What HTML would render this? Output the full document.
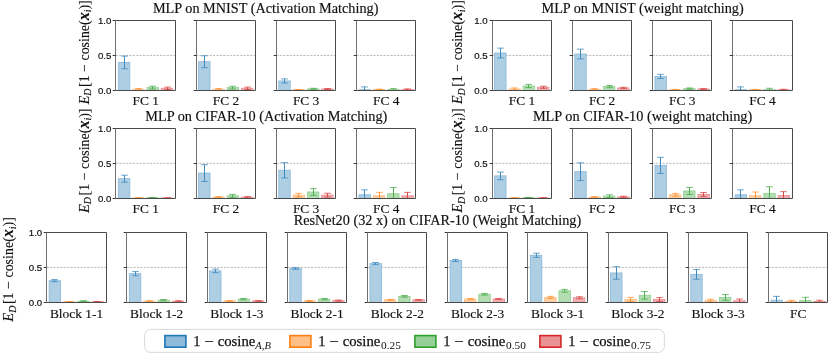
<!DOCTYPE html><html><head><meta charset="utf-8"><style>html,body{margin:0;padding:0;background:#fff;}svg{display:block;will-change:transform;}</style></head><body><svg width="830" height="355" viewBox="0 0 830 355">
<rect width="830" height="355" fill="#fff"/>
<clipPath id="c1"><rect x="115.80" y="20.50" width="59.80" height="69.90"/></clipPath>
<g clip-path="url(#c1)">
<line x1="115.80" y1="55.45" x2="175.60" y2="55.45" stroke="#a8a8a8" stroke-width="0.8" stroke-dasharray="2.2 1.2"/>
<rect x="118.38" y="62.44" width="11.44" height="27.96" fill="rgb(174,206,228)" stroke="rgb(143,187,218)" stroke-width="0.9"/>
<g stroke="rgb(65,139,191)" stroke-width="1" fill="none">
<line x1="124.50" y1="68.73" x2="124.50" y2="56.15"/>
<line x1="121.20" y1="56.15" x2="127.80" y2="56.15" stroke-opacity="0.8"/>
<line x1="121.20" y1="68.73" x2="127.80" y2="68.73" stroke-opacity="0.8"/>
</g>
<rect x="132.68" y="89.35" width="11.44" height="1.05" fill="rgb(255,209,168)" stroke="rgb(255,191,134)" stroke-width="0.9"/>
<g stroke="rgb(255,146,50)" stroke-width="1" fill="none">
<line x1="138.50" y1="90.19" x2="138.50" y2="88.51"/>
<line x1="135.20" y1="88.51" x2="141.80" y2="88.51" stroke-opacity="0.8"/>
<line x1="135.20" y1="90.19" x2="141.80" y2="90.19" stroke-opacity="0.8"/>
</g>
<rect x="146.99" y="87.60" width="11.44" height="2.80" fill="rgb(179,221,179)" stroke="rgb(150,208,150)" stroke-width="0.9"/>
<g stroke="rgb(76,174,76)" stroke-width="1" fill="none">
<line x1="152.50" y1="89.00" x2="152.50" y2="86.21"/>
<line x1="149.20" y1="86.21" x2="155.80" y2="86.21" stroke-opacity="0.8"/>
<line x1="149.20" y1="89.00" x2="155.80" y2="89.00" stroke-opacity="0.8"/>
</g>
<rect x="161.29" y="88.30" width="11.44" height="2.10" fill="rgb(240,177,178)" stroke="rgb(234,147,148)" stroke-width="0.9"/>
<g stroke="rgb(220,71,72)" stroke-width="1" fill="none">
<line x1="167.50" y1="89.49" x2="167.50" y2="87.11"/>
<line x1="164.20" y1="87.11" x2="170.80" y2="87.11" stroke-opacity="0.8"/>
<line x1="164.20" y1="89.49" x2="170.80" y2="89.49" stroke-opacity="0.8"/>
</g>
</g>
<path d="M115.50 20.50H175.50V90.50H115.50" fill="none" stroke="#4a4a4a" stroke-width="1.0"/>
<line x1="115.50" y1="20.50" x2="115.50" y2="90.50" stroke="#707070" stroke-width="1.0"/>
<line x1="112.70" y1="90.50" x2="115.50" y2="90.50" stroke="#333" stroke-width="1.0"/>
<line x1="112.70" y1="55.50" x2="115.50" y2="55.50" stroke="#333" stroke-width="1.0"/>
<line x1="112.70" y1="20.50" x2="115.50" y2="20.50" stroke="#333" stroke-width="1.0"/>
<text x="111.40" y="94.30" font-family='"Liberation Sans", sans-serif' font-size="9.9" text-anchor="end" fill="#111" stroke="#111" stroke-width="0.2" textLength="13.4" lengthAdjust="spacingAndGlyphs">0.0</text>
<text x="111.40" y="59.35" font-family='"Liberation Sans", sans-serif' font-size="9.9" text-anchor="end" fill="#111" stroke="#111" stroke-width="0.2" textLength="13.4" lengthAdjust="spacingAndGlyphs">0.5</text>
<text x="111.40" y="24.40" font-family='"Liberation Sans", sans-serif' font-size="9.9" text-anchor="end" fill="#111" stroke="#111" stroke-width="0.2" textLength="13.4" lengthAdjust="spacingAndGlyphs">1.0</text>
<text x="145.70" y="105.30" font-family='"Liberation Serif", serif' font-size="13.4" text-anchor="middle" fill="#111" stroke="#111" stroke-width="0.15">FC 1</text>
<clipPath id="c2"><rect x="196.00" y="20.50" width="59.80" height="69.90"/></clipPath>
<g clip-path="url(#c2)">
<line x1="196.00" y1="55.45" x2="255.80" y2="55.45" stroke="#a8a8a8" stroke-width="0.8" stroke-dasharray="2.2 1.2"/>
<rect x="198.58" y="61.74" width="11.44" height="28.66" fill="rgb(174,206,228)" stroke="rgb(143,187,218)" stroke-width="0.9"/>
<g stroke="rgb(65,139,191)" stroke-width="1" fill="none">
<line x1="204.50" y1="67.68" x2="204.50" y2="55.80"/>
<line x1="201.20" y1="55.80" x2="207.80" y2="55.80" stroke-opacity="0.8"/>
<line x1="201.20" y1="67.68" x2="207.80" y2="67.68" stroke-opacity="0.8"/>
</g>
<rect x="212.88" y="89.35" width="11.44" height="1.05" fill="rgb(255,209,168)" stroke="rgb(255,191,134)" stroke-width="0.9"/>
<g stroke="rgb(255,146,50)" stroke-width="1" fill="none">
<line x1="218.50" y1="90.19" x2="218.50" y2="88.51"/>
<line x1="215.20" y1="88.51" x2="221.80" y2="88.51" stroke-opacity="0.8"/>
<line x1="215.20" y1="90.19" x2="221.80" y2="90.19" stroke-opacity="0.8"/>
</g>
<rect x="227.19" y="87.60" width="11.44" height="2.80" fill="rgb(179,221,179)" stroke="rgb(150,208,150)" stroke-width="0.9"/>
<g stroke="rgb(76,174,76)" stroke-width="1" fill="none">
<line x1="232.50" y1="89.00" x2="232.50" y2="86.21"/>
<line x1="229.20" y1="86.21" x2="235.80" y2="86.21" stroke-opacity="0.8"/>
<line x1="229.20" y1="89.00" x2="235.80" y2="89.00" stroke-opacity="0.8"/>
</g>
<rect x="241.49" y="88.30" width="11.44" height="2.10" fill="rgb(240,177,178)" stroke="rgb(234,147,148)" stroke-width="0.9"/>
<g stroke="rgb(220,71,72)" stroke-width="1" fill="none">
<line x1="247.50" y1="89.49" x2="247.50" y2="87.11"/>
<line x1="244.20" y1="87.11" x2="250.80" y2="87.11" stroke-opacity="0.8"/>
<line x1="244.20" y1="89.49" x2="250.80" y2="89.49" stroke-opacity="0.8"/>
</g>
</g>
<path d="M196.50 20.50H255.50V90.50H196.50" fill="none" stroke="#4a4a4a" stroke-width="1.0"/>
<line x1="196.50" y1="20.50" x2="196.50" y2="90.50" stroke="#707070" stroke-width="1.0"/>
<line x1="193.70" y1="90.50" x2="196.50" y2="90.50" stroke="#333" stroke-width="1.0"/>
<line x1="193.70" y1="55.50" x2="196.50" y2="55.50" stroke="#333" stroke-width="1.0"/>
<line x1="193.70" y1="20.50" x2="196.50" y2="20.50" stroke="#333" stroke-width="1.0"/>
<text x="225.90" y="105.30" font-family='"Liberation Serif", serif' font-size="13.4" text-anchor="middle" fill="#111" stroke="#111" stroke-width="0.15">FC 2</text>
<clipPath id="c3"><rect x="276.20" y="20.50" width="59.80" height="69.90"/></clipPath>
<g clip-path="url(#c3)">
<line x1="276.20" y1="55.45" x2="336.00" y2="55.45" stroke="#a8a8a8" stroke-width="0.8" stroke-dasharray="2.2 1.2"/>
<rect x="278.78" y="80.96" width="11.44" height="9.44" fill="rgb(174,206,228)" stroke="rgb(143,187,218)" stroke-width="0.9"/>
<g stroke="rgb(65,139,191)" stroke-width="1" fill="none">
<line x1="284.50" y1="83.06" x2="284.50" y2="78.87"/>
<line x1="281.20" y1="78.87" x2="287.80" y2="78.87" stroke-opacity="0.8"/>
<line x1="281.20" y1="83.06" x2="287.80" y2="83.06" stroke-opacity="0.8"/>
</g>
<rect x="293.08" y="89.70" width="11.44" height="0.70" fill="rgb(255,209,168)" stroke="rgb(255,191,134)" stroke-width="0.9"/>
<g stroke="rgb(255,146,50)" stroke-width="1" fill="none">
<line x1="298.50" y1="89.91" x2="298.50" y2="89.49"/>
<line x1="295.20" y1="89.49" x2="301.80" y2="89.49" stroke-opacity="0.8"/>
<line x1="295.20" y1="89.91" x2="301.80" y2="89.91" stroke-opacity="0.8"/>
</g>
<rect x="307.39" y="88.86" width="11.44" height="1.54" fill="rgb(179,221,179)" stroke="rgb(150,208,150)" stroke-width="0.9"/>
<g stroke="rgb(76,174,76)" stroke-width="1" fill="none">
<line x1="313.50" y1="89.42" x2="313.50" y2="88.30"/>
<line x1="310.20" y1="88.30" x2="316.80" y2="88.30" stroke-opacity="0.8"/>
<line x1="310.20" y1="89.42" x2="316.80" y2="89.42" stroke-opacity="0.8"/>
</g>
<rect x="321.69" y="89.00" width="11.44" height="1.40" fill="rgb(240,177,178)" stroke="rgb(234,147,148)" stroke-width="0.9"/>
<g stroke="rgb(220,71,72)" stroke-width="1" fill="none">
<line x1="327.50" y1="89.49" x2="327.50" y2="88.51"/>
<line x1="324.20" y1="88.51" x2="330.80" y2="88.51" stroke-opacity="0.8"/>
<line x1="324.20" y1="89.49" x2="330.80" y2="89.49" stroke-opacity="0.8"/>
</g>
</g>
<path d="M276.50 20.50H335.50V90.50H276.50" fill="none" stroke="#4a4a4a" stroke-width="1.0"/>
<line x1="276.50" y1="20.50" x2="276.50" y2="90.50" stroke="#707070" stroke-width="1.0"/>
<line x1="273.70" y1="90.50" x2="276.50" y2="90.50" stroke="#333" stroke-width="1.0"/>
<line x1="273.70" y1="55.50" x2="276.50" y2="55.50" stroke="#333" stroke-width="1.0"/>
<line x1="273.70" y1="20.50" x2="276.50" y2="20.50" stroke="#333" stroke-width="1.0"/>
<text x="306.10" y="105.30" font-family='"Liberation Serif", serif' font-size="13.4" text-anchor="middle" fill="#111" stroke="#111" stroke-width="0.15">FC 3</text>
<clipPath id="c4"><rect x="356.40" y="20.50" width="59.80" height="69.90"/></clipPath>
<g clip-path="url(#c4)">
<line x1="356.40" y1="55.45" x2="416.20" y2="55.45" stroke="#a8a8a8" stroke-width="0.8" stroke-dasharray="2.2 1.2"/>
<rect x="358.98" y="89.70" width="11.44" height="0.70" fill="rgb(174,206,228)" stroke="rgb(143,187,218)" stroke-width="0.9"/>
<g stroke="rgb(65,139,191)" stroke-width="1" fill="none">
<line x1="364.50" y1="92.50" x2="364.50" y2="86.91"/>
<line x1="361.20" y1="86.91" x2="367.80" y2="86.91" stroke-opacity="0.8"/>
<line x1="361.20" y1="92.50" x2="367.80" y2="92.50" stroke-opacity="0.8"/>
</g>
<rect x="373.28" y="89.56" width="11.44" height="0.84" fill="rgb(255,209,168)" stroke="rgb(255,191,134)" stroke-width="0.9"/>
<g stroke="rgb(255,146,50)" stroke-width="1" fill="none">
<line x1="379.50" y1="89.98" x2="379.50" y2="89.14"/>
<line x1="376.20" y1="89.14" x2="382.80" y2="89.14" stroke-opacity="0.8"/>
<line x1="376.20" y1="89.98" x2="382.80" y2="89.98" stroke-opacity="0.8"/>
</g>
<rect x="387.59" y="89.56" width="11.44" height="0.84" fill="rgb(179,221,179)" stroke="rgb(150,208,150)" stroke-width="0.9"/>
<g stroke="rgb(76,174,76)" stroke-width="1" fill="none">
<line x1="393.50" y1="90.54" x2="393.50" y2="88.58"/>
<line x1="390.20" y1="88.58" x2="396.80" y2="88.58" stroke-opacity="0.8"/>
<line x1="390.20" y1="90.54" x2="396.80" y2="90.54" stroke-opacity="0.8"/>
</g>
<rect x="401.89" y="89.56" width="11.44" height="0.84" fill="rgb(240,177,178)" stroke="rgb(234,147,148)" stroke-width="0.9"/>
<g stroke="rgb(220,71,72)" stroke-width="1" fill="none">
<line x1="407.50" y1="90.26" x2="407.50" y2="88.86"/>
<line x1="404.20" y1="88.86" x2="410.80" y2="88.86" stroke-opacity="0.8"/>
<line x1="404.20" y1="90.26" x2="410.80" y2="90.26" stroke-opacity="0.8"/>
</g>
</g>
<path d="M356.50 20.50H415.50V90.50H356.50" fill="none" stroke="#4a4a4a" stroke-width="1.0"/>
<line x1="356.50" y1="20.50" x2="356.50" y2="90.50" stroke="#707070" stroke-width="1.0"/>
<line x1="353.70" y1="90.50" x2="356.50" y2="90.50" stroke="#333" stroke-width="1.0"/>
<line x1="353.70" y1="55.50" x2="356.50" y2="55.50" stroke="#333" stroke-width="1.0"/>
<line x1="353.70" y1="20.50" x2="356.50" y2="20.50" stroke="#333" stroke-width="1.0"/>
<text x="386.30" y="105.30" font-family='"Liberation Serif", serif' font-size="13.4" text-anchor="middle" fill="#111" stroke="#111" stroke-width="0.15">FC 4</text>
<text x="265.70" y="12.70" font-family='"Liberation Serif", serif' font-size="14" text-anchor="middle" fill="#111" stroke="#111" stroke-width="0.15" textLength="225.5" lengthAdjust="spacingAndGlyphs">MLP on MNIST (Activation Matching)</text>
<text transform="translate(88.50 52.25) rotate(-90)" text-anchor="middle" font-family='"Liberation Serif", serif' font-size="14" fill="#111" stroke="#111" stroke-width="0.12" textLength="103.9" lengthAdjust="spacingAndGlyphs"><tspan font-style="italic">E</tspan><tspan font-style="italic" font-size="10" dy="2.8">D</tspan><tspan dy="-2.8" dx="1.5">[1 − cosine(</tspan><tspan font-weight="bold" font-style="italic" font-size="16">x</tspan><tspan font-style="italic" font-size="10" dy="2.8">i</tspan><tspan dy="-2.8">)]</tspan></text>
<clipPath id="c5"><rect x="492.00" y="20.50" width="59.80" height="69.90"/></clipPath>
<g clip-path="url(#c5)">
<line x1="492.00" y1="55.45" x2="551.80" y2="55.45" stroke="#a8a8a8" stroke-width="0.8" stroke-dasharray="2.2 1.2"/>
<rect x="494.58" y="53.00" width="11.44" height="37.40" fill="rgb(174,206,228)" stroke="rgb(143,187,218)" stroke-width="0.9"/>
<g stroke="rgb(65,139,191)" stroke-width="1" fill="none">
<line x1="500.50" y1="57.90" x2="500.50" y2="48.11"/>
<line x1="497.20" y1="48.11" x2="503.80" y2="48.11" stroke-opacity="0.8"/>
<line x1="497.20" y1="57.90" x2="503.80" y2="57.90" stroke-opacity="0.8"/>
</g>
<rect x="508.88" y="89.00" width="11.44" height="1.40" fill="rgb(255,209,168)" stroke="rgb(255,191,134)" stroke-width="0.9"/>
<g stroke="rgb(255,146,50)" stroke-width="1" fill="none">
<line x1="514.50" y1="90.05" x2="514.50" y2="87.95"/>
<line x1="511.20" y1="87.95" x2="517.80" y2="87.95" stroke-opacity="0.8"/>
<line x1="511.20" y1="90.05" x2="517.80" y2="90.05" stroke-opacity="0.8"/>
</g>
<rect x="523.19" y="86.00" width="11.44" height="4.40" fill="rgb(179,221,179)" stroke="rgb(150,208,150)" stroke-width="0.9"/>
<g stroke="rgb(76,174,76)" stroke-width="1" fill="none">
<line x1="528.50" y1="87.60" x2="528.50" y2="84.39"/>
<line x1="525.20" y1="84.39" x2="531.80" y2="84.39" stroke-opacity="0.8"/>
<line x1="525.20" y1="87.60" x2="531.80" y2="87.60" stroke-opacity="0.8"/>
</g>
<rect x="537.49" y="87.25" width="11.44" height="3.15" fill="rgb(240,177,178)" stroke="rgb(234,147,148)" stroke-width="0.9"/>
<g stroke="rgb(220,71,72)" stroke-width="1" fill="none">
<line x1="543.50" y1="88.30" x2="543.50" y2="86.21"/>
<line x1="540.20" y1="86.21" x2="546.80" y2="86.21" stroke-opacity="0.8"/>
<line x1="540.20" y1="88.30" x2="546.80" y2="88.30" stroke-opacity="0.8"/>
</g>
</g>
<path d="M492.50 20.50H551.50V90.50H492.50" fill="none" stroke="#4a4a4a" stroke-width="1.0"/>
<line x1="492.50" y1="20.50" x2="492.50" y2="90.50" stroke="#707070" stroke-width="1.0"/>
<line x1="489.70" y1="90.50" x2="492.50" y2="90.50" stroke="#333" stroke-width="1.0"/>
<line x1="489.70" y1="55.50" x2="492.50" y2="55.50" stroke="#333" stroke-width="1.0"/>
<line x1="489.70" y1="20.50" x2="492.50" y2="20.50" stroke="#333" stroke-width="1.0"/>
<text x="487.60" y="94.30" font-family='"Liberation Sans", sans-serif' font-size="9.9" text-anchor="end" fill="#111" stroke="#111" stroke-width="0.2" textLength="13.4" lengthAdjust="spacingAndGlyphs">0.0</text>
<text x="487.60" y="59.35" font-family='"Liberation Sans", sans-serif' font-size="9.9" text-anchor="end" fill="#111" stroke="#111" stroke-width="0.2" textLength="13.4" lengthAdjust="spacingAndGlyphs">0.5</text>
<text x="487.60" y="24.40" font-family='"Liberation Sans", sans-serif' font-size="9.9" text-anchor="end" fill="#111" stroke="#111" stroke-width="0.2" textLength="13.4" lengthAdjust="spacingAndGlyphs">1.0</text>
<text x="521.90" y="105.30" font-family='"Liberation Serif", serif' font-size="13.4" text-anchor="middle" fill="#111" stroke="#111" stroke-width="0.15">FC 1</text>
<clipPath id="c6"><rect x="572.20" y="20.50" width="59.80" height="69.90"/></clipPath>
<g clip-path="url(#c6)">
<line x1="572.20" y1="55.45" x2="632.00" y2="55.45" stroke="#a8a8a8" stroke-width="0.8" stroke-dasharray="2.2 1.2"/>
<rect x="574.78" y="54.05" width="11.44" height="36.35" fill="rgb(174,206,228)" stroke="rgb(143,187,218)" stroke-width="0.9"/>
<g stroke="rgb(65,139,191)" stroke-width="1" fill="none">
<line x1="580.50" y1="58.95" x2="580.50" y2="49.16"/>
<line x1="577.20" y1="49.16" x2="583.80" y2="49.16" stroke-opacity="0.8"/>
<line x1="577.20" y1="58.95" x2="583.80" y2="58.95" stroke-opacity="0.8"/>
</g>
<rect x="589.08" y="89.35" width="11.44" height="1.05" fill="rgb(255,209,168)" stroke="rgb(255,191,134)" stroke-width="0.9"/>
<g stroke="rgb(255,146,50)" stroke-width="1" fill="none">
<line x1="594.50" y1="90.05" x2="594.50" y2="88.65"/>
<line x1="591.20" y1="88.65" x2="597.80" y2="88.65" stroke-opacity="0.8"/>
<line x1="591.20" y1="90.05" x2="597.80" y2="90.05" stroke-opacity="0.8"/>
</g>
<rect x="603.39" y="86.56" width="11.44" height="3.84" fill="rgb(179,221,179)" stroke="rgb(150,208,150)" stroke-width="0.9"/>
<g stroke="rgb(76,174,76)" stroke-width="1" fill="none">
<line x1="609.50" y1="87.67" x2="609.50" y2="85.44"/>
<line x1="606.20" y1="85.44" x2="612.80" y2="85.44" stroke-opacity="0.8"/>
<line x1="606.20" y1="87.67" x2="612.80" y2="87.67" stroke-opacity="0.8"/>
</g>
<rect x="617.69" y="87.95" width="11.44" height="2.45" fill="rgb(240,177,178)" stroke="rgb(234,147,148)" stroke-width="0.9"/>
<g stroke="rgb(220,71,72)" stroke-width="1" fill="none">
<line x1="623.50" y1="88.65" x2="623.50" y2="87.25"/>
<line x1="620.20" y1="87.25" x2="626.80" y2="87.25" stroke-opacity="0.8"/>
<line x1="620.20" y1="88.65" x2="626.80" y2="88.65" stroke-opacity="0.8"/>
</g>
</g>
<path d="M572.50 20.50H631.50V90.50H572.50" fill="none" stroke="#4a4a4a" stroke-width="1.0"/>
<line x1="572.50" y1="20.50" x2="572.50" y2="90.50" stroke="#707070" stroke-width="1.0"/>
<line x1="569.70" y1="90.50" x2="572.50" y2="90.50" stroke="#333" stroke-width="1.0"/>
<line x1="569.70" y1="55.50" x2="572.50" y2="55.50" stroke="#333" stroke-width="1.0"/>
<line x1="569.70" y1="20.50" x2="572.50" y2="20.50" stroke="#333" stroke-width="1.0"/>
<text x="602.10" y="105.30" font-family='"Liberation Serif", serif' font-size="13.4" text-anchor="middle" fill="#111" stroke="#111" stroke-width="0.15">FC 2</text>
<clipPath id="c7"><rect x="652.40" y="20.50" width="59.80" height="69.90"/></clipPath>
<g clip-path="url(#c7)">
<line x1="652.40" y1="55.45" x2="712.20" y2="55.45" stroke="#a8a8a8" stroke-width="0.8" stroke-dasharray="2.2 1.2"/>
<rect x="654.98" y="76.42" width="11.44" height="13.98" fill="rgb(174,206,228)" stroke="rgb(143,187,218)" stroke-width="0.9"/>
<g stroke="rgb(65,139,191)" stroke-width="1" fill="none">
<line x1="660.50" y1="78.52" x2="660.50" y2="74.32"/>
<line x1="657.20" y1="74.32" x2="663.80" y2="74.32" stroke-opacity="0.8"/>
<line x1="657.20" y1="78.52" x2="663.80" y2="78.52" stroke-opacity="0.8"/>
</g>
<rect x="669.28" y="89.70" width="11.44" height="0.70" fill="rgb(255,209,168)" stroke="rgb(255,191,134)" stroke-width="0.9"/>
<g stroke="rgb(255,146,50)" stroke-width="1" fill="none">
<line x1="675.50" y1="89.98" x2="675.50" y2="89.42"/>
<line x1="672.20" y1="89.42" x2="678.80" y2="89.42" stroke-opacity="0.8"/>
<line x1="672.20" y1="89.98" x2="678.80" y2="89.98" stroke-opacity="0.8"/>
</g>
<rect x="683.59" y="88.65" width="11.44" height="1.75" fill="rgb(179,221,179)" stroke="rgb(150,208,150)" stroke-width="0.9"/>
<g stroke="rgb(76,174,76)" stroke-width="1" fill="none">
<line x1="689.50" y1="89.35" x2="689.50" y2="87.95"/>
<line x1="686.20" y1="87.95" x2="692.80" y2="87.95" stroke-opacity="0.8"/>
<line x1="686.20" y1="89.35" x2="692.80" y2="89.35" stroke-opacity="0.8"/>
</g>
<rect x="697.89" y="89.00" width="11.44" height="1.40" fill="rgb(240,177,178)" stroke="rgb(234,147,148)" stroke-width="0.9"/>
<g stroke="rgb(220,71,72)" stroke-width="1" fill="none">
<line x1="703.50" y1="89.56" x2="703.50" y2="88.44"/>
<line x1="700.20" y1="88.44" x2="706.80" y2="88.44" stroke-opacity="0.8"/>
<line x1="700.20" y1="89.56" x2="706.80" y2="89.56" stroke-opacity="0.8"/>
</g>
</g>
<path d="M652.50 20.50H711.50V90.50H652.50" fill="none" stroke="#4a4a4a" stroke-width="1.0"/>
<line x1="652.50" y1="20.50" x2="652.50" y2="90.50" stroke="#707070" stroke-width="1.0"/>
<line x1="649.70" y1="90.50" x2="652.50" y2="90.50" stroke="#333" stroke-width="1.0"/>
<line x1="649.70" y1="55.50" x2="652.50" y2="55.50" stroke="#333" stroke-width="1.0"/>
<line x1="649.70" y1="20.50" x2="652.50" y2="20.50" stroke="#333" stroke-width="1.0"/>
<text x="682.30" y="105.30" font-family='"Liberation Serif", serif' font-size="13.4" text-anchor="middle" fill="#111" stroke="#111" stroke-width="0.15">FC 3</text>
<clipPath id="c8"><rect x="732.60" y="20.50" width="59.80" height="69.90"/></clipPath>
<g clip-path="url(#c8)">
<line x1="732.60" y1="55.45" x2="792.40" y2="55.45" stroke="#a8a8a8" stroke-width="0.8" stroke-dasharray="2.2 1.2"/>
<rect x="735.18" y="89.70" width="11.44" height="0.70" fill="rgb(174,206,228)" stroke="rgb(143,187,218)" stroke-width="0.9"/>
<g stroke="rgb(65,139,191)" stroke-width="1" fill="none">
<line x1="740.50" y1="92.50" x2="740.50" y2="86.91"/>
<line x1="737.20" y1="86.91" x2="743.80" y2="86.91" stroke-opacity="0.8"/>
<line x1="737.20" y1="92.50" x2="743.80" y2="92.50" stroke-opacity="0.8"/>
</g>
<rect x="749.48" y="89.70" width="11.44" height="0.70" fill="rgb(255,209,168)" stroke="rgb(255,191,134)" stroke-width="0.9"/>
<g stroke="rgb(255,146,50)" stroke-width="1" fill="none">
<line x1="755.50" y1="89.98" x2="755.50" y2="89.42"/>
<line x1="752.20" y1="89.42" x2="758.80" y2="89.42" stroke-opacity="0.8"/>
<line x1="752.20" y1="89.98" x2="758.80" y2="89.98" stroke-opacity="0.8"/>
</g>
<rect x="763.79" y="89.70" width="11.44" height="0.70" fill="rgb(179,221,179)" stroke="rgb(150,208,150)" stroke-width="0.9"/>
<g stroke="rgb(76,174,76)" stroke-width="1" fill="none">
<line x1="769.50" y1="91.10" x2="769.50" y2="88.30"/>
<line x1="766.20" y1="88.30" x2="772.80" y2="88.30" stroke-opacity="0.8"/>
<line x1="766.20" y1="91.10" x2="772.80" y2="91.10" stroke-opacity="0.8"/>
</g>
<rect x="778.09" y="89.70" width="11.44" height="0.70" fill="rgb(240,177,178)" stroke="rgb(234,147,148)" stroke-width="0.9"/>
<g stroke="rgb(220,71,72)" stroke-width="1" fill="none">
<line x1="783.50" y1="90.12" x2="783.50" y2="89.28"/>
<line x1="780.20" y1="89.28" x2="786.80" y2="89.28" stroke-opacity="0.8"/>
<line x1="780.20" y1="90.12" x2="786.80" y2="90.12" stroke-opacity="0.8"/>
</g>
</g>
<path d="M732.50 20.50H792.50V90.50H732.50" fill="none" stroke="#4a4a4a" stroke-width="1.0"/>
<line x1="732.50" y1="20.50" x2="732.50" y2="90.50" stroke="#707070" stroke-width="1.0"/>
<line x1="729.70" y1="90.50" x2="732.50" y2="90.50" stroke="#333" stroke-width="1.0"/>
<line x1="729.70" y1="55.50" x2="732.50" y2="55.50" stroke="#333" stroke-width="1.0"/>
<line x1="729.70" y1="20.50" x2="732.50" y2="20.50" stroke="#333" stroke-width="1.0"/>
<text x="762.50" y="105.30" font-family='"Liberation Serif", serif' font-size="13.4" text-anchor="middle" fill="#111" stroke="#111" stroke-width="0.15">FC 4</text>
<text x="642.60" y="12.70" font-family='"Liberation Serif", serif' font-size="14" text-anchor="middle" fill="#111" stroke="#111" stroke-width="0.15" textLength="202.2" lengthAdjust="spacingAndGlyphs">MLP on MNIST (weight matching)</text>
<text transform="translate(462.00 52.05) rotate(-90)" text-anchor="middle" font-family='"Liberation Serif", serif' font-size="14" fill="#111" stroke="#111" stroke-width="0.12" textLength="103.9" lengthAdjust="spacingAndGlyphs"><tspan font-style="italic">E</tspan><tspan font-style="italic" font-size="10" dy="2.8">D</tspan><tspan dy="-2.8" dx="1.5">[1 − cosine(</tspan><tspan font-weight="bold" font-style="italic" font-size="16">x</tspan><tspan font-style="italic" font-size="10" dy="2.8">i</tspan><tspan dy="-2.8">)]</tspan></text>
<clipPath id="c9"><rect x="115.80" y="128.30" width="59.80" height="70.00"/></clipPath>
<g clip-path="url(#c9)">
<line x1="115.80" y1="163.30" x2="175.60" y2="163.30" stroke="#a8a8a8" stroke-width="0.8" stroke-dasharray="2.2 1.2"/>
<rect x="118.38" y="178.70" width="11.44" height="19.60" fill="rgb(174,206,228)" stroke="rgb(143,187,218)" stroke-width="0.9"/>
<g stroke="rgb(65,139,191)" stroke-width="1" fill="none">
<line x1="124.50" y1="182.20" x2="124.50" y2="175.20"/>
<line x1="121.20" y1="175.20" x2="127.80" y2="175.20" stroke-opacity="0.8"/>
<line x1="121.20" y1="182.20" x2="127.80" y2="182.20" stroke-opacity="0.8"/>
</g>
<rect x="132.68" y="197.95" width="11.44" height="0.35" fill="rgb(255,209,168)" stroke="rgb(255,191,134)" stroke-width="0.9"/>
<g stroke="rgb(255,146,50)" stroke-width="1" fill="none">
<line x1="138.50" y1="198.09" x2="138.50" y2="197.81"/>
<line x1="135.20" y1="197.81" x2="141.80" y2="197.81" stroke-opacity="0.8"/>
<line x1="135.20" y1="198.09" x2="141.80" y2="198.09" stroke-opacity="0.8"/>
</g>
<rect x="146.99" y="197.74" width="11.44" height="0.56" fill="rgb(179,221,179)" stroke="rgb(150,208,150)" stroke-width="0.9"/>
<g stroke="rgb(76,174,76)" stroke-width="1" fill="none">
<line x1="152.50" y1="197.95" x2="152.50" y2="197.53"/>
<line x1="149.20" y1="197.53" x2="155.80" y2="197.53" stroke-opacity="0.8"/>
<line x1="149.20" y1="197.95" x2="155.80" y2="197.95" stroke-opacity="0.8"/>
</g>
<rect x="161.29" y="197.95" width="11.44" height="0.35" fill="rgb(240,177,178)" stroke="rgb(234,147,148)" stroke-width="0.9"/>
<g stroke="rgb(220,71,72)" stroke-width="1" fill="none">
<line x1="167.50" y1="198.09" x2="167.50" y2="197.81"/>
<line x1="164.20" y1="197.81" x2="170.80" y2="197.81" stroke-opacity="0.8"/>
<line x1="164.20" y1="198.09" x2="170.80" y2="198.09" stroke-opacity="0.8"/>
</g>
</g>
<path d="M115.50 128.50H175.50V198.50H115.50" fill="none" stroke="#4a4a4a" stroke-width="1.0"/>
<line x1="115.50" y1="128.50" x2="115.50" y2="198.50" stroke="#707070" stroke-width="1.0"/>
<line x1="112.70" y1="198.50" x2="115.50" y2="198.50" stroke="#333" stroke-width="1.0"/>
<line x1="112.70" y1="163.50" x2="115.50" y2="163.50" stroke="#333" stroke-width="1.0"/>
<line x1="112.70" y1="128.50" x2="115.50" y2="128.50" stroke="#333" stroke-width="1.0"/>
<text x="111.40" y="202.20" font-family='"Liberation Sans", sans-serif' font-size="9.9" text-anchor="end" fill="#111" stroke="#111" stroke-width="0.2" textLength="13.4" lengthAdjust="spacingAndGlyphs">0.0</text>
<text x="111.40" y="167.20" font-family='"Liberation Sans", sans-serif' font-size="9.9" text-anchor="end" fill="#111" stroke="#111" stroke-width="0.2" textLength="13.4" lengthAdjust="spacingAndGlyphs">0.5</text>
<text x="111.40" y="132.20" font-family='"Liberation Sans", sans-serif' font-size="9.9" text-anchor="end" fill="#111" stroke="#111" stroke-width="0.2" textLength="13.4" lengthAdjust="spacingAndGlyphs">1.0</text>
<text x="145.70" y="213.20" font-family='"Liberation Serif", serif' font-size="13.4" text-anchor="middle" fill="#111" stroke="#111" stroke-width="0.15">FC 1</text>
<clipPath id="c10"><rect x="196.00" y="128.30" width="59.80" height="70.00"/></clipPath>
<g clip-path="url(#c10)">
<line x1="196.00" y1="163.30" x2="255.80" y2="163.30" stroke="#a8a8a8" stroke-width="0.8" stroke-dasharray="2.2 1.2"/>
<rect x="198.58" y="173.10" width="11.44" height="25.20" fill="rgb(174,206,228)" stroke="rgb(143,187,218)" stroke-width="0.9"/>
<g stroke="rgb(65,139,191)" stroke-width="1" fill="none">
<line x1="204.50" y1="181.50" x2="204.50" y2="164.70"/>
<line x1="201.20" y1="164.70" x2="207.80" y2="164.70" stroke-opacity="0.8"/>
<line x1="201.20" y1="181.50" x2="207.80" y2="181.50" stroke-opacity="0.8"/>
</g>
<rect x="212.88" y="197.25" width="11.44" height="1.05" fill="rgb(255,209,168)" stroke="rgb(255,191,134)" stroke-width="0.9"/>
<g stroke="rgb(255,146,50)" stroke-width="1" fill="none">
<line x1="218.50" y1="197.95" x2="218.50" y2="196.55"/>
<line x1="215.20" y1="196.55" x2="221.80" y2="196.55" stroke-opacity="0.8"/>
<line x1="215.20" y1="197.95" x2="221.80" y2="197.95" stroke-opacity="0.8"/>
</g>
<rect x="227.19" y="195.85" width="11.44" height="2.45" fill="rgb(179,221,179)" stroke="rgb(150,208,150)" stroke-width="0.9"/>
<g stroke="rgb(76,174,76)" stroke-width="1" fill="none">
<line x1="232.50" y1="197.25" x2="232.50" y2="194.45"/>
<line x1="229.20" y1="194.45" x2="235.80" y2="194.45" stroke-opacity="0.8"/>
<line x1="229.20" y1="197.25" x2="235.80" y2="197.25" stroke-opacity="0.8"/>
</g>
<rect x="241.49" y="197.25" width="11.44" height="1.05" fill="rgb(240,177,178)" stroke="rgb(234,147,148)" stroke-width="0.9"/>
<g stroke="rgb(220,71,72)" stroke-width="1" fill="none">
<line x1="247.50" y1="197.95" x2="247.50" y2="196.55"/>
<line x1="244.20" y1="196.55" x2="250.80" y2="196.55" stroke-opacity="0.8"/>
<line x1="244.20" y1="197.95" x2="250.80" y2="197.95" stroke-opacity="0.8"/>
</g>
</g>
<path d="M196.50 128.50H255.50V198.50H196.50" fill="none" stroke="#4a4a4a" stroke-width="1.0"/>
<line x1="196.50" y1="128.50" x2="196.50" y2="198.50" stroke="#707070" stroke-width="1.0"/>
<line x1="193.70" y1="198.50" x2="196.50" y2="198.50" stroke="#333" stroke-width="1.0"/>
<line x1="193.70" y1="163.50" x2="196.50" y2="163.50" stroke="#333" stroke-width="1.0"/>
<line x1="193.70" y1="128.50" x2="196.50" y2="128.50" stroke="#333" stroke-width="1.0"/>
<text x="225.90" y="213.20" font-family='"Liberation Serif", serif' font-size="13.4" text-anchor="middle" fill="#111" stroke="#111" stroke-width="0.15">FC 2</text>
<clipPath id="c11"><rect x="276.20" y="128.30" width="59.80" height="70.00"/></clipPath>
<g clip-path="url(#c11)">
<line x1="276.20" y1="163.30" x2="336.00" y2="163.30" stroke="#a8a8a8" stroke-width="0.8" stroke-dasharray="2.2 1.2"/>
<rect x="278.78" y="170.30" width="11.44" height="28.00" fill="rgb(174,206,228)" stroke="rgb(143,187,218)" stroke-width="0.9"/>
<g stroke="rgb(65,139,191)" stroke-width="1" fill="none">
<line x1="284.50" y1="178.00" x2="284.50" y2="162.60"/>
<line x1="281.20" y1="162.60" x2="287.80" y2="162.60" stroke-opacity="0.8"/>
<line x1="281.20" y1="178.00" x2="287.80" y2="178.00" stroke-opacity="0.8"/>
</g>
<rect x="293.08" y="195.15" width="11.44" height="3.15" fill="rgb(255,209,168)" stroke="rgb(255,191,134)" stroke-width="0.9"/>
<g stroke="rgb(255,146,50)" stroke-width="1" fill="none">
<line x1="298.50" y1="196.97" x2="298.50" y2="193.33"/>
<line x1="295.20" y1="193.33" x2="301.80" y2="193.33" stroke-opacity="0.8"/>
<line x1="295.20" y1="196.97" x2="301.80" y2="196.97" stroke-opacity="0.8"/>
</g>
<rect x="307.39" y="192.00" width="11.44" height="6.30" fill="rgb(179,221,179)" stroke="rgb(150,208,150)" stroke-width="0.9"/>
<g stroke="rgb(76,174,76)" stroke-width="1" fill="none">
<line x1="313.50" y1="195.36" x2="313.50" y2="188.64"/>
<line x1="310.20" y1="188.64" x2="316.80" y2="188.64" stroke-opacity="0.8"/>
<line x1="310.20" y1="195.36" x2="316.80" y2="195.36" stroke-opacity="0.8"/>
</g>
<rect x="321.69" y="195.15" width="11.44" height="3.15" fill="rgb(240,177,178)" stroke="rgb(234,147,148)" stroke-width="0.9"/>
<g stroke="rgb(220,71,72)" stroke-width="1" fill="none">
<line x1="327.50" y1="197.04" x2="327.50" y2="193.26"/>
<line x1="324.20" y1="193.26" x2="330.80" y2="193.26" stroke-opacity="0.8"/>
<line x1="324.20" y1="197.04" x2="330.80" y2="197.04" stroke-opacity="0.8"/>
</g>
</g>
<path d="M276.50 128.50H335.50V198.50H276.50" fill="none" stroke="#4a4a4a" stroke-width="1.0"/>
<line x1="276.50" y1="128.50" x2="276.50" y2="198.50" stroke="#707070" stroke-width="1.0"/>
<line x1="273.70" y1="198.50" x2="276.50" y2="198.50" stroke="#333" stroke-width="1.0"/>
<line x1="273.70" y1="163.50" x2="276.50" y2="163.50" stroke="#333" stroke-width="1.0"/>
<line x1="273.70" y1="128.50" x2="276.50" y2="128.50" stroke="#333" stroke-width="1.0"/>
<text x="306.10" y="213.20" font-family='"Liberation Serif", serif' font-size="13.4" text-anchor="middle" fill="#111" stroke="#111" stroke-width="0.15">FC 3</text>
<clipPath id="c12"><rect x="356.40" y="128.30" width="59.80" height="70.00"/></clipPath>
<g clip-path="url(#c12)">
<line x1="356.40" y1="163.30" x2="416.20" y2="163.30" stroke="#a8a8a8" stroke-width="0.8" stroke-dasharray="2.2 1.2"/>
<rect x="358.98" y="194.80" width="11.44" height="3.50" fill="rgb(174,206,228)" stroke="rgb(143,187,218)" stroke-width="0.9"/>
<g stroke="rgb(65,139,191)" stroke-width="1" fill="none">
<line x1="364.50" y1="199.70" x2="364.50" y2="189.90"/>
<line x1="361.20" y1="189.90" x2="367.80" y2="189.90" stroke-opacity="0.8"/>
<line x1="361.20" y1="199.70" x2="367.80" y2="199.70" stroke-opacity="0.8"/>
</g>
<rect x="373.28" y="195.85" width="11.44" height="2.45" fill="rgb(255,209,168)" stroke="rgb(255,191,134)" stroke-width="0.9"/>
<g stroke="rgb(255,146,50)" stroke-width="1" fill="none">
<line x1="379.50" y1="199.35" x2="379.50" y2="192.35"/>
<line x1="376.20" y1="192.35" x2="382.80" y2="192.35" stroke-opacity="0.8"/>
<line x1="376.20" y1="199.35" x2="382.80" y2="199.35" stroke-opacity="0.8"/>
</g>
<rect x="387.59" y="193.75" width="11.44" height="4.55" fill="rgb(179,221,179)" stroke="rgb(150,208,150)" stroke-width="0.9"/>
<g stroke="rgb(76,174,76)" stroke-width="1" fill="none">
<line x1="393.50" y1="200.05" x2="393.50" y2="187.45"/>
<line x1="390.20" y1="187.45" x2="396.80" y2="187.45" stroke-opacity="0.8"/>
<line x1="390.20" y1="200.05" x2="396.80" y2="200.05" stroke-opacity="0.8"/>
</g>
<rect x="401.89" y="195.85" width="11.44" height="2.45" fill="rgb(240,177,178)" stroke="rgb(234,147,148)" stroke-width="0.9"/>
<g stroke="rgb(220,71,72)" stroke-width="1" fill="none">
<line x1="407.50" y1="199.35" x2="407.50" y2="192.35"/>
<line x1="404.20" y1="192.35" x2="410.80" y2="192.35" stroke-opacity="0.8"/>
<line x1="404.20" y1="199.35" x2="410.80" y2="199.35" stroke-opacity="0.8"/>
</g>
</g>
<path d="M356.50 128.50H415.50V198.50H356.50" fill="none" stroke="#4a4a4a" stroke-width="1.0"/>
<line x1="356.50" y1="128.50" x2="356.50" y2="198.50" stroke="#707070" stroke-width="1.0"/>
<line x1="353.70" y1="198.50" x2="356.50" y2="198.50" stroke="#333" stroke-width="1.0"/>
<line x1="353.70" y1="163.50" x2="356.50" y2="163.50" stroke="#333" stroke-width="1.0"/>
<line x1="353.70" y1="128.50" x2="356.50" y2="128.50" stroke="#333" stroke-width="1.0"/>
<text x="386.30" y="213.20" font-family='"Liberation Serif", serif' font-size="13.4" text-anchor="middle" fill="#111" stroke="#111" stroke-width="0.15">FC 4</text>
<text x="266.30" y="121.10" font-family='"Liberation Serif", serif' font-size="14" text-anchor="middle" fill="#111" stroke="#111" stroke-width="0.15" textLength="242.0" lengthAdjust="spacingAndGlyphs">MLP on CIFAR-10 (Activation Matching)</text>
<text transform="translate(88.50 160.65) rotate(-90)" text-anchor="middle" font-family='"Liberation Serif", serif' font-size="14" fill="#111" stroke="#111" stroke-width="0.12" textLength="104.3" lengthAdjust="spacingAndGlyphs"><tspan font-style="italic">E</tspan><tspan font-style="italic" font-size="10" dy="2.8">D</tspan><tspan dy="-2.8" dx="1.5">[1 − cosine(</tspan><tspan font-weight="bold" font-style="italic" font-size="16">x</tspan><tspan font-style="italic" font-size="10" dy="2.8">i</tspan><tspan dy="-2.8">)]</tspan></text>
<clipPath id="c13"><rect x="492.00" y="128.30" width="59.80" height="70.00"/></clipPath>
<g clip-path="url(#c13)">
<line x1="492.00" y1="163.30" x2="551.80" y2="163.30" stroke="#a8a8a8" stroke-width="0.8" stroke-dasharray="2.2 1.2"/>
<rect x="494.58" y="175.90" width="11.44" height="22.40" fill="rgb(174,206,228)" stroke="rgb(143,187,218)" stroke-width="0.9"/>
<g stroke="rgb(65,139,191)" stroke-width="1" fill="none">
<line x1="500.50" y1="179.75" x2="500.50" y2="172.05"/>
<line x1="497.20" y1="172.05" x2="503.80" y2="172.05" stroke-opacity="0.8"/>
<line x1="497.20" y1="179.75" x2="503.80" y2="179.75" stroke-opacity="0.8"/>
</g>
<rect x="508.88" y="197.95" width="11.44" height="0.35" fill="rgb(255,209,168)" stroke="rgb(255,191,134)" stroke-width="0.9"/>
<g stroke="rgb(255,146,50)" stroke-width="1" fill="none">
<line x1="514.50" y1="198.09" x2="514.50" y2="197.81"/>
<line x1="511.20" y1="197.81" x2="517.80" y2="197.81" stroke-opacity="0.8"/>
<line x1="511.20" y1="198.09" x2="517.80" y2="198.09" stroke-opacity="0.8"/>
</g>
<rect x="523.19" y="197.74" width="11.44" height="0.56" fill="rgb(179,221,179)" stroke="rgb(150,208,150)" stroke-width="0.9"/>
<g stroke="rgb(76,174,76)" stroke-width="1" fill="none">
<line x1="528.50" y1="197.95" x2="528.50" y2="197.53"/>
<line x1="525.20" y1="197.53" x2="531.80" y2="197.53" stroke-opacity="0.8"/>
<line x1="525.20" y1="197.95" x2="531.80" y2="197.95" stroke-opacity="0.8"/>
</g>
<rect x="537.49" y="197.88" width="11.44" height="0.42" fill="rgb(240,177,178)" stroke="rgb(234,147,148)" stroke-width="0.9"/>
<g stroke="rgb(220,71,72)" stroke-width="1" fill="none">
<line x1="543.50" y1="198.02" x2="543.50" y2="197.74"/>
<line x1="540.20" y1="197.74" x2="546.80" y2="197.74" stroke-opacity="0.8"/>
<line x1="540.20" y1="198.02" x2="546.80" y2="198.02" stroke-opacity="0.8"/>
</g>
</g>
<path d="M492.50 128.50H551.50V198.50H492.50" fill="none" stroke="#4a4a4a" stroke-width="1.0"/>
<line x1="492.50" y1="128.50" x2="492.50" y2="198.50" stroke="#707070" stroke-width="1.0"/>
<line x1="489.70" y1="198.50" x2="492.50" y2="198.50" stroke="#333" stroke-width="1.0"/>
<line x1="489.70" y1="163.50" x2="492.50" y2="163.50" stroke="#333" stroke-width="1.0"/>
<line x1="489.70" y1="128.50" x2="492.50" y2="128.50" stroke="#333" stroke-width="1.0"/>
<text x="487.60" y="202.20" font-family='"Liberation Sans", sans-serif' font-size="9.9" text-anchor="end" fill="#111" stroke="#111" stroke-width="0.2" textLength="13.4" lengthAdjust="spacingAndGlyphs">0.0</text>
<text x="487.60" y="167.20" font-family='"Liberation Sans", sans-serif' font-size="9.9" text-anchor="end" fill="#111" stroke="#111" stroke-width="0.2" textLength="13.4" lengthAdjust="spacingAndGlyphs">0.5</text>
<text x="487.60" y="132.20" font-family='"Liberation Sans", sans-serif' font-size="9.9" text-anchor="end" fill="#111" stroke="#111" stroke-width="0.2" textLength="13.4" lengthAdjust="spacingAndGlyphs">1.0</text>
<text x="521.90" y="213.20" font-family='"Liberation Serif", serif' font-size="13.4" text-anchor="middle" fill="#111" stroke="#111" stroke-width="0.15">FC 1</text>
<clipPath id="c14"><rect x="572.20" y="128.30" width="59.80" height="70.00"/></clipPath>
<g clip-path="url(#c14)">
<line x1="572.20" y1="163.30" x2="632.00" y2="163.30" stroke="#a8a8a8" stroke-width="0.8" stroke-dasharray="2.2 1.2"/>
<rect x="574.78" y="171.70" width="11.44" height="26.60" fill="rgb(174,206,228)" stroke="rgb(143,187,218)" stroke-width="0.9"/>
<g stroke="rgb(65,139,191)" stroke-width="1" fill="none">
<line x1="580.50" y1="180.59" x2="580.50" y2="162.81"/>
<line x1="577.20" y1="162.81" x2="583.80" y2="162.81" stroke-opacity="0.8"/>
<line x1="577.20" y1="180.59" x2="583.80" y2="180.59" stroke-opacity="0.8"/>
</g>
<rect x="589.08" y="197.25" width="11.44" height="1.05" fill="rgb(255,209,168)" stroke="rgb(255,191,134)" stroke-width="0.9"/>
<g stroke="rgb(255,146,50)" stroke-width="1" fill="none">
<line x1="594.50" y1="197.95" x2="594.50" y2="196.55"/>
<line x1="591.20" y1="196.55" x2="597.80" y2="196.55" stroke-opacity="0.8"/>
<line x1="591.20" y1="197.95" x2="597.80" y2="197.95" stroke-opacity="0.8"/>
</g>
<rect x="603.39" y="196.20" width="11.44" height="2.10" fill="rgb(179,221,179)" stroke="rgb(150,208,150)" stroke-width="0.9"/>
<g stroke="rgb(76,174,76)" stroke-width="1" fill="none">
<line x1="609.50" y1="197.60" x2="609.50" y2="194.80"/>
<line x1="606.20" y1="194.80" x2="612.80" y2="194.80" stroke-opacity="0.8"/>
<line x1="606.20" y1="197.60" x2="612.80" y2="197.60" stroke-opacity="0.8"/>
</g>
<rect x="617.69" y="196.90" width="11.44" height="1.40" fill="rgb(240,177,178)" stroke="rgb(234,147,148)" stroke-width="0.9"/>
<g stroke="rgb(220,71,72)" stroke-width="1" fill="none">
<line x1="623.50" y1="197.60" x2="623.50" y2="196.20"/>
<line x1="620.20" y1="196.20" x2="626.80" y2="196.20" stroke-opacity="0.8"/>
<line x1="620.20" y1="197.60" x2="626.80" y2="197.60" stroke-opacity="0.8"/>
</g>
</g>
<path d="M572.50 128.50H631.50V198.50H572.50" fill="none" stroke="#4a4a4a" stroke-width="1.0"/>
<line x1="572.50" y1="128.50" x2="572.50" y2="198.50" stroke="#707070" stroke-width="1.0"/>
<line x1="569.70" y1="198.50" x2="572.50" y2="198.50" stroke="#333" stroke-width="1.0"/>
<line x1="569.70" y1="163.50" x2="572.50" y2="163.50" stroke="#333" stroke-width="1.0"/>
<line x1="569.70" y1="128.50" x2="572.50" y2="128.50" stroke="#333" stroke-width="1.0"/>
<text x="602.10" y="213.20" font-family='"Liberation Serif", serif' font-size="13.4" text-anchor="middle" fill="#111" stroke="#111" stroke-width="0.15">FC 2</text>
<clipPath id="c15"><rect x="652.40" y="128.30" width="59.80" height="70.00"/></clipPath>
<g clip-path="url(#c15)">
<line x1="652.40" y1="163.30" x2="712.20" y2="163.30" stroke="#a8a8a8" stroke-width="0.8" stroke-dasharray="2.2 1.2"/>
<rect x="654.98" y="165.40" width="11.44" height="32.90" fill="rgb(174,206,228)" stroke="rgb(143,187,218)" stroke-width="0.9"/>
<g stroke="rgb(65,139,191)" stroke-width="1" fill="none">
<line x1="660.50" y1="173.45" x2="660.50" y2="157.35"/>
<line x1="657.20" y1="157.35" x2="663.80" y2="157.35" stroke-opacity="0.8"/>
<line x1="657.20" y1="173.45" x2="663.80" y2="173.45" stroke-opacity="0.8"/>
</g>
<rect x="669.28" y="194.80" width="11.44" height="3.50" fill="rgb(255,209,168)" stroke="rgb(255,191,134)" stroke-width="0.9"/>
<g stroke="rgb(255,146,50)" stroke-width="1" fill="none">
<line x1="675.50" y1="196.20" x2="675.50" y2="193.40"/>
<line x1="672.20" y1="193.40" x2="678.80" y2="193.40" stroke-opacity="0.8"/>
<line x1="672.20" y1="196.20" x2="678.80" y2="196.20" stroke-opacity="0.8"/>
</g>
<rect x="683.59" y="190.95" width="11.44" height="7.35" fill="rgb(179,221,179)" stroke="rgb(150,208,150)" stroke-width="0.9"/>
<g stroke="rgb(76,174,76)" stroke-width="1" fill="none">
<line x1="689.50" y1="194.45" x2="689.50" y2="187.45"/>
<line x1="686.20" y1="187.45" x2="692.80" y2="187.45" stroke-opacity="0.8"/>
<line x1="686.20" y1="194.45" x2="692.80" y2="194.45" stroke-opacity="0.8"/>
</g>
<rect x="697.89" y="194.45" width="11.44" height="3.85" fill="rgb(240,177,178)" stroke="rgb(234,147,148)" stroke-width="0.9"/>
<g stroke="rgb(220,71,72)" stroke-width="1" fill="none">
<line x1="703.50" y1="196.41" x2="703.50" y2="192.49"/>
<line x1="700.20" y1="192.49" x2="706.80" y2="192.49" stroke-opacity="0.8"/>
<line x1="700.20" y1="196.41" x2="706.80" y2="196.41" stroke-opacity="0.8"/>
</g>
</g>
<path d="M652.50 128.50H711.50V198.50H652.50" fill="none" stroke="#4a4a4a" stroke-width="1.0"/>
<line x1="652.50" y1="128.50" x2="652.50" y2="198.50" stroke="#707070" stroke-width="1.0"/>
<line x1="649.70" y1="198.50" x2="652.50" y2="198.50" stroke="#333" stroke-width="1.0"/>
<line x1="649.70" y1="163.50" x2="652.50" y2="163.50" stroke="#333" stroke-width="1.0"/>
<line x1="649.70" y1="128.50" x2="652.50" y2="128.50" stroke="#333" stroke-width="1.0"/>
<text x="682.30" y="213.20" font-family='"Liberation Serif", serif' font-size="13.4" text-anchor="middle" fill="#111" stroke="#111" stroke-width="0.15">FC 3</text>
<clipPath id="c16"><rect x="732.60" y="128.30" width="59.80" height="70.00"/></clipPath>
<g clip-path="url(#c16)">
<line x1="732.60" y1="163.30" x2="792.40" y2="163.30" stroke="#a8a8a8" stroke-width="0.8" stroke-dasharray="2.2 1.2"/>
<rect x="735.18" y="194.80" width="11.44" height="3.50" fill="rgb(174,206,228)" stroke="rgb(143,187,218)" stroke-width="0.9"/>
<g stroke="rgb(65,139,191)" stroke-width="1" fill="none">
<line x1="740.50" y1="199.70" x2="740.50" y2="189.90"/>
<line x1="737.20" y1="189.90" x2="743.80" y2="189.90" stroke-opacity="0.8"/>
<line x1="737.20" y1="199.70" x2="743.80" y2="199.70" stroke-opacity="0.8"/>
</g>
<rect x="749.48" y="195.85" width="11.44" height="2.45" fill="rgb(255,209,168)" stroke="rgb(255,191,134)" stroke-width="0.9"/>
<g stroke="rgb(255,146,50)" stroke-width="1" fill="none">
<line x1="755.50" y1="199.70" x2="755.50" y2="192.00"/>
<line x1="752.20" y1="192.00" x2="758.80" y2="192.00" stroke-opacity="0.8"/>
<line x1="752.20" y1="199.70" x2="758.80" y2="199.70" stroke-opacity="0.8"/>
</g>
<rect x="763.79" y="193.40" width="11.44" height="4.90" fill="rgb(179,221,179)" stroke="rgb(150,208,150)" stroke-width="0.9"/>
<g stroke="rgb(76,174,76)" stroke-width="1" fill="none">
<line x1="769.50" y1="200.05" x2="769.50" y2="186.75"/>
<line x1="766.20" y1="186.75" x2="772.80" y2="186.75" stroke-opacity="0.8"/>
<line x1="766.20" y1="200.05" x2="772.80" y2="200.05" stroke-opacity="0.8"/>
</g>
<rect x="778.09" y="195.50" width="11.44" height="2.80" fill="rgb(240,177,178)" stroke="rgb(234,147,148)" stroke-width="0.9"/>
<g stroke="rgb(220,71,72)" stroke-width="1" fill="none">
<line x1="783.50" y1="199.35" x2="783.50" y2="191.65"/>
<line x1="780.20" y1="191.65" x2="786.80" y2="191.65" stroke-opacity="0.8"/>
<line x1="780.20" y1="199.35" x2="786.80" y2="199.35" stroke-opacity="0.8"/>
</g>
</g>
<path d="M732.50 128.50H792.50V198.50H732.50" fill="none" stroke="#4a4a4a" stroke-width="1.0"/>
<line x1="732.50" y1="128.50" x2="732.50" y2="198.50" stroke="#707070" stroke-width="1.0"/>
<line x1="729.70" y1="198.50" x2="732.50" y2="198.50" stroke="#333" stroke-width="1.0"/>
<line x1="729.70" y1="163.50" x2="732.50" y2="163.50" stroke="#333" stroke-width="1.0"/>
<line x1="729.70" y1="128.50" x2="732.50" y2="128.50" stroke="#333" stroke-width="1.0"/>
<text x="762.50" y="213.20" font-family='"Liberation Serif", serif' font-size="13.4" text-anchor="middle" fill="#111" stroke="#111" stroke-width="0.15">FC 4</text>
<text x="642.60" y="121.10" font-family='"Liberation Serif", serif' font-size="14" text-anchor="middle" fill="#111" stroke="#111" stroke-width="0.15" textLength="219.4" lengthAdjust="spacingAndGlyphs">MLP on CIFAR-10 (weight matching)</text>
<text transform="translate(462.00 160.45) rotate(-90)" text-anchor="middle" font-family='"Liberation Serif", serif' font-size="14" fill="#111" stroke="#111" stroke-width="0.12" textLength="104.3" lengthAdjust="spacingAndGlyphs"><tspan font-style="italic">E</tspan><tspan font-style="italic" font-size="10" dy="2.8">D</tspan><tspan dy="-2.8" dx="1.5">[1 − cosine(</tspan><tspan font-weight="bold" font-style="italic" font-size="16">x</tspan><tspan font-style="italic" font-size="10" dy="2.8">i</tspan><tspan dy="-2.8">)]</tspan></text>
<clipPath id="c17"><rect x="46.60" y="232.50" width="59.80" height="69.80"/></clipPath>
<g clip-path="url(#c17)">
<line x1="46.60" y1="267.40" x2="106.40" y2="267.40" stroke="#a8a8a8" stroke-width="0.8" stroke-dasharray="2.2 1.2"/>
<rect x="49.18" y="280.66" width="11.44" height="21.64" fill="rgb(174,206,228)" stroke="rgb(143,187,218)" stroke-width="0.9"/>
<g stroke="rgb(65,139,191)" stroke-width="1" fill="none">
<line x1="54.50" y1="281.71" x2="54.50" y2="279.62"/>
<line x1="51.20" y1="279.62" x2="57.80" y2="279.62" stroke-opacity="0.8"/>
<line x1="51.20" y1="281.71" x2="57.80" y2="281.71" stroke-opacity="0.8"/>
</g>
<rect x="63.48" y="301.74" width="11.44" height="0.56" fill="rgb(255,209,168)" stroke="rgb(255,191,134)" stroke-width="0.9"/>
<g stroke="rgb(255,146,50)" stroke-width="1" fill="none">
<line x1="69.50" y1="301.95" x2="69.50" y2="301.53"/>
<line x1="66.20" y1="301.53" x2="72.80" y2="301.53" stroke-opacity="0.8"/>
<line x1="66.20" y1="301.95" x2="72.80" y2="301.95" stroke-opacity="0.8"/>
</g>
<rect x="77.79" y="301.25" width="11.44" height="1.05" fill="rgb(179,221,179)" stroke="rgb(150,208,150)" stroke-width="0.9"/>
<g stroke="rgb(76,174,76)" stroke-width="1" fill="none">
<line x1="83.50" y1="301.81" x2="83.50" y2="300.69"/>
<line x1="80.20" y1="300.69" x2="86.80" y2="300.69" stroke-opacity="0.8"/>
<line x1="80.20" y1="301.81" x2="86.80" y2="301.81" stroke-opacity="0.8"/>
</g>
<rect x="92.09" y="301.74" width="11.44" height="0.56" fill="rgb(240,177,178)" stroke="rgb(234,147,148)" stroke-width="0.9"/>
<g stroke="rgb(220,71,72)" stroke-width="1" fill="none">
<line x1="97.50" y1="301.95" x2="97.50" y2="301.53"/>
<line x1="94.20" y1="301.53" x2="100.80" y2="301.53" stroke-opacity="0.8"/>
<line x1="94.20" y1="301.95" x2="100.80" y2="301.95" stroke-opacity="0.8"/>
</g>
</g>
<path d="M46.50 232.50H106.50V302.50H46.50" fill="none" stroke="#4a4a4a" stroke-width="1.0"/>
<line x1="46.50" y1="232.50" x2="46.50" y2="302.50" stroke="#707070" stroke-width="1.0"/>
<line x1="43.70" y1="302.50" x2="46.50" y2="302.50" stroke="#333" stroke-width="1.0"/>
<line x1="43.70" y1="267.50" x2="46.50" y2="267.50" stroke="#333" stroke-width="1.0"/>
<line x1="43.70" y1="232.50" x2="46.50" y2="232.50" stroke="#333" stroke-width="1.0"/>
<text x="42.20" y="306.20" font-family='"Liberation Sans", sans-serif' font-size="9.9" text-anchor="end" fill="#111" stroke="#111" stroke-width="0.2" textLength="13.4" lengthAdjust="spacingAndGlyphs">0.0</text>
<text x="42.20" y="271.30" font-family='"Liberation Sans", sans-serif' font-size="9.9" text-anchor="end" fill="#111" stroke="#111" stroke-width="0.2" textLength="13.4" lengthAdjust="spacingAndGlyphs">0.5</text>
<text x="42.20" y="236.40" font-family='"Liberation Sans", sans-serif' font-size="9.9" text-anchor="end" fill="#111" stroke="#111" stroke-width="0.2" textLength="13.4" lengthAdjust="spacingAndGlyphs">1.0</text>
<text x="76.50" y="317.70" font-family='"Liberation Serif", serif' font-size="13.4" text-anchor="middle" fill="#111" stroke="#111" stroke-width="0.15">Block 1-1</text>
<clipPath id="c18"><rect x="126.80" y="232.50" width="59.80" height="69.80"/></clipPath>
<g clip-path="url(#c18)">
<line x1="126.80" y1="267.40" x2="186.60" y2="267.40" stroke="#a8a8a8" stroke-width="0.8" stroke-dasharray="2.2 1.2"/>
<rect x="129.38" y="273.68" width="11.44" height="28.62" fill="rgb(174,206,228)" stroke="rgb(143,187,218)" stroke-width="0.9"/>
<g stroke="rgb(65,139,191)" stroke-width="1" fill="none">
<line x1="135.50" y1="275.78" x2="135.50" y2="271.59"/>
<line x1="132.20" y1="271.59" x2="138.80" y2="271.59" stroke-opacity="0.8"/>
<line x1="132.20" y1="275.78" x2="138.80" y2="275.78" stroke-opacity="0.8"/>
</g>
<rect x="143.68" y="301.25" width="11.44" height="1.05" fill="rgb(255,209,168)" stroke="rgb(255,191,134)" stroke-width="0.9"/>
<g stroke="rgb(255,146,50)" stroke-width="1" fill="none">
<line x1="149.50" y1="301.81" x2="149.50" y2="300.69"/>
<line x1="146.20" y1="300.69" x2="152.80" y2="300.69" stroke-opacity="0.8"/>
<line x1="146.20" y1="301.81" x2="152.80" y2="301.81" stroke-opacity="0.8"/>
</g>
<rect x="157.99" y="300.21" width="11.44" height="2.09" fill="rgb(179,221,179)" stroke="rgb(150,208,150)" stroke-width="0.9"/>
<g stroke="rgb(76,174,76)" stroke-width="1" fill="none">
<line x1="163.50" y1="300.90" x2="163.50" y2="299.51"/>
<line x1="160.20" y1="299.51" x2="166.80" y2="299.51" stroke-opacity="0.8"/>
<line x1="160.20" y1="300.90" x2="166.80" y2="300.90" stroke-opacity="0.8"/>
</g>
<rect x="172.29" y="301.25" width="11.44" height="1.05" fill="rgb(240,177,178)" stroke="rgb(234,147,148)" stroke-width="0.9"/>
<g stroke="rgb(220,71,72)" stroke-width="1" fill="none">
<line x1="178.50" y1="301.81" x2="178.50" y2="300.69"/>
<line x1="175.20" y1="300.69" x2="181.80" y2="300.69" stroke-opacity="0.8"/>
<line x1="175.20" y1="301.81" x2="181.80" y2="301.81" stroke-opacity="0.8"/>
</g>
</g>
<path d="M126.50 232.50H186.50V302.50H126.50" fill="none" stroke="#4a4a4a" stroke-width="1.0"/>
<line x1="126.50" y1="232.50" x2="126.50" y2="302.50" stroke="#707070" stroke-width="1.0"/>
<line x1="123.70" y1="302.50" x2="126.50" y2="302.50" stroke="#333" stroke-width="1.0"/>
<line x1="123.70" y1="267.50" x2="126.50" y2="267.50" stroke="#333" stroke-width="1.0"/>
<line x1="123.70" y1="232.50" x2="126.50" y2="232.50" stroke="#333" stroke-width="1.0"/>
<text x="156.70" y="317.70" font-family='"Liberation Serif", serif' font-size="13.4" text-anchor="middle" fill="#111" stroke="#111" stroke-width="0.15">Block 1-2</text>
<clipPath id="c19"><rect x="207.00" y="232.50" width="59.80" height="69.80"/></clipPath>
<g clip-path="url(#c19)">
<line x1="207.00" y1="267.40" x2="266.80" y2="267.40" stroke="#a8a8a8" stroke-width="0.8" stroke-dasharray="2.2 1.2"/>
<rect x="209.58" y="270.89" width="11.44" height="31.41" fill="rgb(174,206,228)" stroke="rgb(143,187,218)" stroke-width="0.9"/>
<g stroke="rgb(65,139,191)" stroke-width="1" fill="none">
<line x1="215.50" y1="272.63" x2="215.50" y2="269.14"/>
<line x1="212.20" y1="269.14" x2="218.80" y2="269.14" stroke-opacity="0.8"/>
<line x1="212.20" y1="272.63" x2="218.80" y2="272.63" stroke-opacity="0.8"/>
</g>
<rect x="223.88" y="300.90" width="11.44" height="1.40" fill="rgb(255,209,168)" stroke="rgb(255,191,134)" stroke-width="0.9"/>
<g stroke="rgb(255,146,50)" stroke-width="1" fill="none">
<line x1="229.50" y1="301.25" x2="229.50" y2="300.56"/>
<line x1="226.20" y1="300.56" x2="232.80" y2="300.56" stroke-opacity="0.8"/>
<line x1="226.20" y1="301.25" x2="232.80" y2="301.25" stroke-opacity="0.8"/>
</g>
<rect x="238.19" y="299.16" width="11.44" height="3.14" fill="rgb(179,221,179)" stroke="rgb(150,208,150)" stroke-width="0.9"/>
<g stroke="rgb(76,174,76)" stroke-width="1" fill="none">
<line x1="243.50" y1="299.86" x2="243.50" y2="298.46"/>
<line x1="240.20" y1="298.46" x2="246.80" y2="298.46" stroke-opacity="0.8"/>
<line x1="240.20" y1="299.86" x2="246.80" y2="299.86" stroke-opacity="0.8"/>
</g>
<rect x="252.49" y="300.90" width="11.44" height="1.40" fill="rgb(240,177,178)" stroke="rgb(234,147,148)" stroke-width="0.9"/>
<g stroke="rgb(220,71,72)" stroke-width="1" fill="none">
<line x1="258.50" y1="301.25" x2="258.50" y2="300.56"/>
<line x1="255.20" y1="300.56" x2="261.80" y2="300.56" stroke-opacity="0.8"/>
<line x1="255.20" y1="301.25" x2="261.80" y2="301.25" stroke-opacity="0.8"/>
</g>
</g>
<path d="M207.50 232.50H266.50V302.50H207.50" fill="none" stroke="#4a4a4a" stroke-width="1.0"/>
<line x1="207.50" y1="232.50" x2="207.50" y2="302.50" stroke="#707070" stroke-width="1.0"/>
<line x1="204.70" y1="302.50" x2="207.50" y2="302.50" stroke="#333" stroke-width="1.0"/>
<line x1="204.70" y1="267.50" x2="207.50" y2="267.50" stroke="#333" stroke-width="1.0"/>
<line x1="204.70" y1="232.50" x2="207.50" y2="232.50" stroke="#333" stroke-width="1.0"/>
<text x="236.90" y="317.70" font-family='"Liberation Serif", serif' font-size="13.4" text-anchor="middle" fill="#111" stroke="#111" stroke-width="0.15">Block 1-3</text>
<clipPath id="c20"><rect x="287.20" y="232.50" width="59.80" height="69.80"/></clipPath>
<g clip-path="url(#c20)">
<line x1="287.20" y1="267.40" x2="347.00" y2="267.40" stroke="#a8a8a8" stroke-width="0.8" stroke-dasharray="2.2 1.2"/>
<rect x="289.78" y="268.45" width="11.44" height="33.85" fill="rgb(174,206,228)" stroke="rgb(143,187,218)" stroke-width="0.9"/>
<g stroke="rgb(65,139,191)" stroke-width="1" fill="none">
<line x1="295.50" y1="269.28" x2="295.50" y2="267.61"/>
<line x1="292.20" y1="267.61" x2="298.80" y2="267.61" stroke-opacity="0.8"/>
<line x1="292.20" y1="269.28" x2="298.80" y2="269.28" stroke-opacity="0.8"/>
</g>
<rect x="304.08" y="300.90" width="11.44" height="1.40" fill="rgb(255,209,168)" stroke="rgb(255,191,134)" stroke-width="0.9"/>
<g stroke="rgb(255,146,50)" stroke-width="1" fill="none">
<line x1="309.50" y1="301.46" x2="309.50" y2="300.35"/>
<line x1="306.20" y1="300.35" x2="312.80" y2="300.35" stroke-opacity="0.8"/>
<line x1="306.20" y1="301.46" x2="312.80" y2="301.46" stroke-opacity="0.8"/>
</g>
<rect x="318.39" y="299.16" width="11.44" height="3.14" fill="rgb(179,221,179)" stroke="rgb(150,208,150)" stroke-width="0.9"/>
<g stroke="rgb(76,174,76)" stroke-width="1" fill="none">
<line x1="324.50" y1="299.86" x2="324.50" y2="298.46"/>
<line x1="321.20" y1="298.46" x2="327.80" y2="298.46" stroke-opacity="0.8"/>
<line x1="321.20" y1="299.86" x2="327.80" y2="299.86" stroke-opacity="0.8"/>
</g>
<rect x="332.69" y="300.56" width="11.44" height="1.75" fill="rgb(240,177,178)" stroke="rgb(234,147,148)" stroke-width="0.9"/>
<g stroke="rgb(220,71,72)" stroke-width="1" fill="none">
<line x1="338.50" y1="301.11" x2="338.50" y2="300.00"/>
<line x1="335.20" y1="300.00" x2="341.80" y2="300.00" stroke-opacity="0.8"/>
<line x1="335.20" y1="301.11" x2="341.80" y2="301.11" stroke-opacity="0.8"/>
</g>
</g>
<path d="M287.50 232.50H346.50V302.50H287.50" fill="none" stroke="#4a4a4a" stroke-width="1.0"/>
<line x1="287.50" y1="232.50" x2="287.50" y2="302.50" stroke="#707070" stroke-width="1.0"/>
<line x1="284.70" y1="302.50" x2="287.50" y2="302.50" stroke="#333" stroke-width="1.0"/>
<line x1="284.70" y1="267.50" x2="287.50" y2="267.50" stroke="#333" stroke-width="1.0"/>
<line x1="284.70" y1="232.50" x2="287.50" y2="232.50" stroke="#333" stroke-width="1.0"/>
<text x="317.10" y="317.70" font-family='"Liberation Serif", serif' font-size="13.4" text-anchor="middle" fill="#111" stroke="#111" stroke-width="0.15">Block 2-1</text>
<clipPath id="c21"><rect x="367.40" y="232.50" width="59.80" height="69.80"/></clipPath>
<g clip-path="url(#c21)">
<line x1="367.40" y1="267.40" x2="427.20" y2="267.40" stroke="#a8a8a8" stroke-width="0.8" stroke-dasharray="2.2 1.2"/>
<rect x="369.98" y="263.56" width="11.44" height="38.74" fill="rgb(174,206,228)" stroke="rgb(143,187,218)" stroke-width="0.9"/>
<g stroke="rgb(65,139,191)" stroke-width="1" fill="none">
<line x1="375.50" y1="264.61" x2="375.50" y2="262.51"/>
<line x1="372.20" y1="262.51" x2="378.80" y2="262.51" stroke-opacity="0.8"/>
<line x1="372.20" y1="264.61" x2="378.80" y2="264.61" stroke-opacity="0.8"/>
</g>
<rect x="384.28" y="299.86" width="11.44" height="2.44" fill="rgb(255,209,168)" stroke="rgb(255,191,134)" stroke-width="0.9"/>
<g stroke="rgb(255,146,50)" stroke-width="1" fill="none">
<line x1="390.50" y1="300.21" x2="390.50" y2="299.51"/>
<line x1="387.20" y1="299.51" x2="393.80" y2="299.51" stroke-opacity="0.8"/>
<line x1="387.20" y1="300.21" x2="393.80" y2="300.21" stroke-opacity="0.8"/>
</g>
<rect x="398.59" y="296.37" width="11.44" height="5.93" fill="rgb(179,221,179)" stroke="rgb(150,208,150)" stroke-width="0.9"/>
<g stroke="rgb(76,174,76)" stroke-width="1" fill="none">
<line x1="404.50" y1="297.20" x2="404.50" y2="295.53"/>
<line x1="401.20" y1="295.53" x2="407.80" y2="295.53" stroke-opacity="0.8"/>
<line x1="401.20" y1="297.20" x2="407.80" y2="297.20" stroke-opacity="0.8"/>
</g>
<rect x="412.89" y="299.86" width="11.44" height="2.44" fill="rgb(240,177,178)" stroke="rgb(234,147,148)" stroke-width="0.9"/>
<g stroke="rgb(220,71,72)" stroke-width="1" fill="none">
<line x1="418.50" y1="300.28" x2="418.50" y2="299.44"/>
<line x1="415.20" y1="299.44" x2="421.80" y2="299.44" stroke-opacity="0.8"/>
<line x1="415.20" y1="300.28" x2="421.80" y2="300.28" stroke-opacity="0.8"/>
</g>
</g>
<path d="M367.50 232.50H426.50V302.50H367.50" fill="none" stroke="#4a4a4a" stroke-width="1.0"/>
<line x1="367.50" y1="232.50" x2="367.50" y2="302.50" stroke="#707070" stroke-width="1.0"/>
<line x1="364.70" y1="302.50" x2="367.50" y2="302.50" stroke="#333" stroke-width="1.0"/>
<line x1="364.70" y1="267.50" x2="367.50" y2="267.50" stroke="#333" stroke-width="1.0"/>
<line x1="364.70" y1="232.50" x2="367.50" y2="232.50" stroke="#333" stroke-width="1.0"/>
<text x="397.30" y="317.70" font-family='"Liberation Serif", serif' font-size="13.4" text-anchor="middle" fill="#111" stroke="#111" stroke-width="0.15">Block 2-2</text>
<clipPath id="c22"><rect x="447.60" y="232.50" width="59.80" height="69.80"/></clipPath>
<g clip-path="url(#c22)">
<line x1="447.60" y1="267.40" x2="507.40" y2="267.40" stroke="#a8a8a8" stroke-width="0.8" stroke-dasharray="2.2 1.2"/>
<rect x="450.18" y="260.42" width="11.44" height="41.88" fill="rgb(174,206,228)" stroke="rgb(143,187,218)" stroke-width="0.9"/>
<g stroke="rgb(65,139,191)" stroke-width="1" fill="none">
<line x1="455.50" y1="261.47" x2="455.50" y2="259.37"/>
<line x1="452.20" y1="259.37" x2="458.80" y2="259.37" stroke-opacity="0.8"/>
<line x1="452.20" y1="261.47" x2="458.80" y2="261.47" stroke-opacity="0.8"/>
</g>
<rect x="464.48" y="299.16" width="11.44" height="3.14" fill="rgb(255,209,168)" stroke="rgb(255,191,134)" stroke-width="0.9"/>
<g stroke="rgb(255,146,50)" stroke-width="1" fill="none">
<line x1="470.50" y1="299.86" x2="470.50" y2="298.46"/>
<line x1="467.20" y1="298.46" x2="473.80" y2="298.46" stroke-opacity="0.8"/>
<line x1="467.20" y1="299.86" x2="473.80" y2="299.86" stroke-opacity="0.8"/>
</g>
<rect x="478.79" y="294.27" width="11.44" height="8.03" fill="rgb(179,221,179)" stroke="rgb(150,208,150)" stroke-width="0.9"/>
<g stroke="rgb(76,174,76)" stroke-width="1" fill="none">
<line x1="484.50" y1="295.11" x2="484.50" y2="293.44"/>
<line x1="481.20" y1="293.44" x2="487.80" y2="293.44" stroke-opacity="0.8"/>
<line x1="481.20" y1="295.11" x2="487.80" y2="295.11" stroke-opacity="0.8"/>
</g>
<rect x="493.09" y="299.02" width="11.44" height="3.28" fill="rgb(240,177,178)" stroke="rgb(234,147,148)" stroke-width="0.9"/>
<g stroke="rgb(220,71,72)" stroke-width="1" fill="none">
<line x1="498.50" y1="299.58" x2="498.50" y2="298.46"/>
<line x1="495.20" y1="298.46" x2="501.80" y2="298.46" stroke-opacity="0.8"/>
<line x1="495.20" y1="299.58" x2="501.80" y2="299.58" stroke-opacity="0.8"/>
</g>
</g>
<path d="M447.50 232.50H507.50V302.50H447.50" fill="none" stroke="#4a4a4a" stroke-width="1.0"/>
<line x1="447.50" y1="232.50" x2="447.50" y2="302.50" stroke="#707070" stroke-width="1.0"/>
<line x1="444.70" y1="302.50" x2="447.50" y2="302.50" stroke="#333" stroke-width="1.0"/>
<line x1="444.70" y1="267.50" x2="447.50" y2="267.50" stroke="#333" stroke-width="1.0"/>
<line x1="444.70" y1="232.50" x2="447.50" y2="232.50" stroke="#333" stroke-width="1.0"/>
<text x="477.50" y="317.70" font-family='"Liberation Serif", serif' font-size="13.4" text-anchor="middle" fill="#111" stroke="#111" stroke-width="0.15">Block 2-3</text>
<clipPath id="c23"><rect x="527.80" y="232.50" width="59.80" height="69.80"/></clipPath>
<g clip-path="url(#c23)">
<line x1="527.80" y1="267.40" x2="587.60" y2="267.40" stroke="#a8a8a8" stroke-width="0.8" stroke-dasharray="2.2 1.2"/>
<rect x="530.38" y="255.32" width="11.44" height="46.98" fill="rgb(174,206,228)" stroke="rgb(143,187,218)" stroke-width="0.9"/>
<g stroke="rgb(65,139,191)" stroke-width="1" fill="none">
<line x1="536.50" y1="257.42" x2="536.50" y2="253.23"/>
<line x1="533.20" y1="253.23" x2="539.80" y2="253.23" stroke-opacity="0.8"/>
<line x1="533.20" y1="257.42" x2="539.80" y2="257.42" stroke-opacity="0.8"/>
</g>
<rect x="544.68" y="297.41" width="11.44" height="4.89" fill="rgb(255,209,168)" stroke="rgb(255,191,134)" stroke-width="0.9"/>
<g stroke="rgb(255,146,50)" stroke-width="1" fill="none">
<line x1="550.50" y1="298.46" x2="550.50" y2="296.37"/>
<line x1="547.20" y1="296.37" x2="553.80" y2="296.37" stroke-opacity="0.8"/>
<line x1="547.20" y1="298.46" x2="553.80" y2="298.46" stroke-opacity="0.8"/>
</g>
<rect x="558.99" y="290.78" width="11.44" height="11.52" fill="rgb(179,221,179)" stroke="rgb(150,208,150)" stroke-width="0.9"/>
<g stroke="rgb(76,174,76)" stroke-width="1" fill="none">
<line x1="564.50" y1="292.18" x2="564.50" y2="289.39"/>
<line x1="561.20" y1="289.39" x2="567.80" y2="289.39" stroke-opacity="0.8"/>
<line x1="561.20" y1="292.18" x2="567.80" y2="292.18" stroke-opacity="0.8"/>
</g>
<rect x="573.29" y="297.76" width="11.44" height="4.54" fill="rgb(240,177,178)" stroke="rgb(234,147,148)" stroke-width="0.9"/>
<g stroke="rgb(220,71,72)" stroke-width="1" fill="none">
<line x1="579.50" y1="298.81" x2="579.50" y2="296.72"/>
<line x1="576.20" y1="296.72" x2="582.80" y2="296.72" stroke-opacity="0.8"/>
<line x1="576.20" y1="298.81" x2="582.80" y2="298.81" stroke-opacity="0.8"/>
</g>
</g>
<path d="M527.50 232.50H587.50V302.50H527.50" fill="none" stroke="#4a4a4a" stroke-width="1.0"/>
<line x1="527.50" y1="232.50" x2="527.50" y2="302.50" stroke="#707070" stroke-width="1.0"/>
<line x1="524.70" y1="302.50" x2="527.50" y2="302.50" stroke="#333" stroke-width="1.0"/>
<line x1="524.70" y1="267.50" x2="527.50" y2="267.50" stroke="#333" stroke-width="1.0"/>
<line x1="524.70" y1="232.50" x2="527.50" y2="232.50" stroke="#333" stroke-width="1.0"/>
<text x="557.70" y="317.70" font-family='"Liberation Serif", serif' font-size="13.4" text-anchor="middle" fill="#111" stroke="#111" stroke-width="0.15">Block 3-1</text>
<clipPath id="c24"><rect x="608.00" y="232.50" width="59.80" height="69.80"/></clipPath>
<g clip-path="url(#c24)">
<line x1="608.00" y1="267.40" x2="667.80" y2="267.40" stroke="#a8a8a8" stroke-width="0.8" stroke-dasharray="2.2 1.2"/>
<rect x="610.58" y="272.98" width="11.44" height="29.32" fill="rgb(174,206,228)" stroke="rgb(143,187,218)" stroke-width="0.9"/>
<g stroke="rgb(65,139,191)" stroke-width="1" fill="none">
<line x1="616.50" y1="279.27" x2="616.50" y2="266.70"/>
<line x1="613.20" y1="266.70" x2="619.80" y2="266.70" stroke-opacity="0.8"/>
<line x1="613.20" y1="279.27" x2="619.80" y2="279.27" stroke-opacity="0.8"/>
</g>
<rect x="624.88" y="299.51" width="11.44" height="2.79" fill="rgb(255,209,168)" stroke="rgb(255,191,134)" stroke-width="0.9"/>
<g stroke="rgb(255,146,50)" stroke-width="1" fill="none">
<line x1="630.50" y1="301.60" x2="630.50" y2="297.41"/>
<line x1="627.20" y1="297.41" x2="633.80" y2="297.41" stroke-opacity="0.8"/>
<line x1="627.20" y1="301.60" x2="633.80" y2="301.60" stroke-opacity="0.8"/>
</g>
<rect x="639.19" y="295.32" width="11.44" height="6.98" fill="rgb(179,221,179)" stroke="rgb(150,208,150)" stroke-width="0.9"/>
<g stroke="rgb(76,174,76)" stroke-width="1" fill="none">
<line x1="644.50" y1="299.16" x2="644.50" y2="291.48"/>
<line x1="641.20" y1="291.48" x2="647.80" y2="291.48" stroke-opacity="0.8"/>
<line x1="641.20" y1="299.16" x2="647.80" y2="299.16" stroke-opacity="0.8"/>
</g>
<rect x="653.49" y="299.51" width="11.44" height="2.79" fill="rgb(240,177,178)" stroke="rgb(234,147,148)" stroke-width="0.9"/>
<g stroke="rgb(220,71,72)" stroke-width="1" fill="none">
<line x1="659.50" y1="301.46" x2="659.50" y2="297.55"/>
<line x1="656.20" y1="297.55" x2="662.80" y2="297.55" stroke-opacity="0.8"/>
<line x1="656.20" y1="301.46" x2="662.80" y2="301.46" stroke-opacity="0.8"/>
</g>
</g>
<path d="M608.50 232.50H667.50V302.50H608.50" fill="none" stroke="#4a4a4a" stroke-width="1.0"/>
<line x1="608.50" y1="232.50" x2="608.50" y2="302.50" stroke="#707070" stroke-width="1.0"/>
<line x1="605.70" y1="302.50" x2="608.50" y2="302.50" stroke="#333" stroke-width="1.0"/>
<line x1="605.70" y1="267.50" x2="608.50" y2="267.50" stroke="#333" stroke-width="1.0"/>
<line x1="605.70" y1="232.50" x2="608.50" y2="232.50" stroke="#333" stroke-width="1.0"/>
<text x="637.90" y="317.70" font-family='"Liberation Serif", serif' font-size="13.4" text-anchor="middle" fill="#111" stroke="#111" stroke-width="0.15">Block 3-2</text>
<clipPath id="c25"><rect x="688.20" y="232.50" width="59.80" height="69.80"/></clipPath>
<g clip-path="url(#c25)">
<line x1="688.20" y1="267.40" x2="748.00" y2="267.40" stroke="#a8a8a8" stroke-width="0.8" stroke-dasharray="2.2 1.2"/>
<rect x="690.78" y="274.38" width="11.44" height="27.92" fill="rgb(174,206,228)" stroke="rgb(143,187,218)" stroke-width="0.9"/>
<g stroke="rgb(65,139,191)" stroke-width="1" fill="none">
<line x1="696.50" y1="279.27" x2="696.50" y2="269.49"/>
<line x1="693.20" y1="269.49" x2="699.80" y2="269.49" stroke-opacity="0.8"/>
<line x1="693.20" y1="279.27" x2="699.80" y2="279.27" stroke-opacity="0.8"/>
</g>
<rect x="705.08" y="300.56" width="11.44" height="1.75" fill="rgb(255,209,168)" stroke="rgb(255,191,134)" stroke-width="0.9"/>
<g stroke="rgb(255,146,50)" stroke-width="1" fill="none">
<line x1="710.50" y1="301.95" x2="710.50" y2="299.16"/>
<line x1="707.20" y1="299.16" x2="713.80" y2="299.16" stroke-opacity="0.8"/>
<line x1="707.20" y1="301.95" x2="713.80" y2="301.95" stroke-opacity="0.8"/>
</g>
<rect x="719.39" y="297.41" width="11.44" height="4.89" fill="rgb(179,221,179)" stroke="rgb(150,208,150)" stroke-width="0.9"/>
<g stroke="rgb(76,174,76)" stroke-width="1" fill="none">
<line x1="725.50" y1="300.35" x2="725.50" y2="294.48"/>
<line x1="722.20" y1="294.48" x2="728.80" y2="294.48" stroke-opacity="0.8"/>
<line x1="722.20" y1="300.35" x2="728.80" y2="300.35" stroke-opacity="0.8"/>
</g>
<rect x="733.69" y="300.76" width="11.44" height="1.54" fill="rgb(240,177,178)" stroke="rgb(234,147,148)" stroke-width="0.9"/>
<g stroke="rgb(220,71,72)" stroke-width="1" fill="none">
<line x1="739.50" y1="302.51" x2="739.50" y2="299.02"/>
<line x1="736.20" y1="299.02" x2="742.80" y2="299.02" stroke-opacity="0.8"/>
<line x1="736.20" y1="302.51" x2="742.80" y2="302.51" stroke-opacity="0.8"/>
</g>
</g>
<path d="M688.50 232.50H747.50V302.50H688.50" fill="none" stroke="#4a4a4a" stroke-width="1.0"/>
<line x1="688.50" y1="232.50" x2="688.50" y2="302.50" stroke="#707070" stroke-width="1.0"/>
<line x1="685.70" y1="302.50" x2="688.50" y2="302.50" stroke="#333" stroke-width="1.0"/>
<line x1="685.70" y1="267.50" x2="688.50" y2="267.50" stroke="#333" stroke-width="1.0"/>
<line x1="685.70" y1="232.50" x2="688.50" y2="232.50" stroke="#333" stroke-width="1.0"/>
<text x="718.10" y="317.70" font-family='"Liberation Serif", serif' font-size="13.4" text-anchor="middle" fill="#111" stroke="#111" stroke-width="0.15">Block 3-3</text>
<clipPath id="c26"><rect x="768.40" y="232.50" width="59.80" height="69.80"/></clipPath>
<g clip-path="url(#c26)">
<line x1="768.40" y1="267.40" x2="828.20" y2="267.40" stroke="#a8a8a8" stroke-width="0.8" stroke-dasharray="2.2 1.2"/>
<rect x="770.98" y="300.21" width="11.44" height="2.09" fill="rgb(174,206,228)" stroke="rgb(143,187,218)" stroke-width="0.9"/>
<g stroke="rgb(65,139,191)" stroke-width="1" fill="none">
<line x1="776.50" y1="304.05" x2="776.50" y2="296.37"/>
<line x1="773.20" y1="296.37" x2="779.80" y2="296.37" stroke-opacity="0.8"/>
<line x1="773.20" y1="304.05" x2="779.80" y2="304.05" stroke-opacity="0.8"/>
</g>
<rect x="785.28" y="301.46" width="11.44" height="0.84" fill="rgb(255,209,168)" stroke="rgb(255,191,134)" stroke-width="0.9"/>
<g stroke="rgb(255,146,50)" stroke-width="1" fill="none">
<line x1="791.50" y1="302.51" x2="791.50" y2="300.42"/>
<line x1="788.20" y1="300.42" x2="794.80" y2="300.42" stroke-opacity="0.8"/>
<line x1="788.20" y1="302.51" x2="794.80" y2="302.51" stroke-opacity="0.8"/>
</g>
<rect x="799.59" y="300.56" width="11.44" height="1.75" fill="rgb(179,221,179)" stroke="rgb(150,208,150)" stroke-width="0.9"/>
<g stroke="rgb(76,174,76)" stroke-width="1" fill="none">
<line x1="805.50" y1="303.84" x2="805.50" y2="297.27"/>
<line x1="802.20" y1="297.27" x2="808.80" y2="297.27" stroke-opacity="0.8"/>
<line x1="802.20" y1="303.84" x2="808.80" y2="303.84" stroke-opacity="0.8"/>
</g>
<rect x="813.89" y="301.46" width="11.44" height="0.84" fill="rgb(240,177,178)" stroke="rgb(234,147,148)" stroke-width="0.9"/>
<g stroke="rgb(220,71,72)" stroke-width="1" fill="none">
<line x1="819.50" y1="302.72" x2="819.50" y2="300.21"/>
<line x1="816.20" y1="300.21" x2="822.80" y2="300.21" stroke-opacity="0.8"/>
<line x1="816.20" y1="302.72" x2="822.80" y2="302.72" stroke-opacity="0.8"/>
</g>
</g>
<path d="M768.50 232.50H827.50V302.50H768.50" fill="none" stroke="#4a4a4a" stroke-width="1.0"/>
<line x1="768.50" y1="232.50" x2="768.50" y2="302.50" stroke="#707070" stroke-width="1.0"/>
<line x1="765.70" y1="302.50" x2="768.50" y2="302.50" stroke="#333" stroke-width="1.0"/>
<line x1="765.70" y1="267.50" x2="768.50" y2="267.50" stroke="#333" stroke-width="1.0"/>
<line x1="765.70" y1="232.50" x2="768.50" y2="232.50" stroke="#333" stroke-width="1.0"/>
<text x="798.30" y="317.70" font-family='"Liberation Serif", serif' font-size="13.4" text-anchor="middle" fill="#111" stroke="#111" stroke-width="0.15">FC</text>
<text x="437.40" y="225.40" font-family='"Liberation Serif", serif' font-size="14" text-anchor="middle" fill="#111" stroke="#111" stroke-width="0.15" textLength="287.5" lengthAdjust="spacingAndGlyphs">ResNet20 (32 x) on CIFAR-10 (Weight Matching)</text>
<text transform="translate(13.20 269.25) rotate(-90)" text-anchor="middle" font-family='"Liberation Serif", serif' font-size="14" fill="#111" stroke="#111" stroke-width="0.12" textLength="104.3" lengthAdjust="spacingAndGlyphs"><tspan font-style="italic">E</tspan><tspan font-style="italic" font-size="10" dy="2.8">D</tspan><tspan dy="-2.8" dx="1.5">[1 − cosine(</tspan><tspan font-weight="bold" font-style="italic" font-size="16">x</tspan><tspan font-style="italic" font-size="10" dy="2.8">i</tspan><tspan dy="-2.8">)]</tspan></text>
<rect x="144.6" y="329.4" width="519.8" height="23" rx="6" ry="6" fill="#fff" stroke="#d5d5d5" stroke-width="0.9"/>
<rect x="164.90" y="335.6" width="21" height="11.6" fill="rgb(143,187,218)" stroke="rgb(31,119,180)" stroke-width="1.6"/>
<text x="193.20" y="346" font-family='"Liberation Serif", serif' fill="#111" font-size="14.4" stroke="#111" stroke-width="0.25">1</text>
<text x="204.60" y="346" font-family='"Liberation Serif", serif' fill="#111" font-size="13.5" stroke="#111" stroke-width="0.3" textLength="9.20" lengthAdjust="spacingAndGlyphs">−</text>
<text x="217.70" y="346" font-family='"Liberation Serif", serif' fill="#111" font-size="14.4" stroke="#111" stroke-width="0.25" textLength="37.60" lengthAdjust="spacingAndGlyphs">cosine</text>
<text x="255.30" y="348.6" font-family='"Liberation Serif", serif' fill="#111" font-size="9.6" font-style="italic" textLength="15.60" lengthAdjust="spacingAndGlyphs">A,B</text>
<rect x="289.90" y="335.6" width="21" height="11.6" fill="rgb(255,191,134)" stroke="rgb(255,127,14)" stroke-width="1.6"/>
<text x="318.20" y="346" font-family='"Liberation Serif", serif' fill="#111" font-size="14.4" stroke="#111" stroke-width="0.25">1</text>
<text x="329.60" y="346" font-family='"Liberation Serif", serif' fill="#111" font-size="13.5" stroke="#111" stroke-width="0.3" textLength="9.20" lengthAdjust="spacingAndGlyphs">−</text>
<text x="342.70" y="346" font-family='"Liberation Serif", serif' fill="#111" font-size="14.4" stroke="#111" stroke-width="0.25" textLength="37.60" lengthAdjust="spacingAndGlyphs">cosine</text>
<text x="381.10" y="348.6" font-family='"Liberation Serif", serif' fill="#111" font-size="9.6" textLength="19.80" lengthAdjust="spacingAndGlyphs">0.25</text>
<rect x="414.90" y="335.6" width="21" height="11.6" fill="rgb(150,208,150)" stroke="rgb(44,160,44)" stroke-width="1.6"/>
<text x="443.20" y="346" font-family='"Liberation Serif", serif' fill="#111" font-size="14.4" stroke="#111" stroke-width="0.25">1</text>
<text x="454.60" y="346" font-family='"Liberation Serif", serif' fill="#111" font-size="13.5" stroke="#111" stroke-width="0.3" textLength="9.20" lengthAdjust="spacingAndGlyphs">−</text>
<text x="467.70" y="346" font-family='"Liberation Serif", serif' fill="#111" font-size="14.4" stroke="#111" stroke-width="0.25" textLength="37.60" lengthAdjust="spacingAndGlyphs">cosine</text>
<text x="506.10" y="348.6" font-family='"Liberation Serif", serif' fill="#111" font-size="9.6" textLength="19.80" lengthAdjust="spacingAndGlyphs">0.50</text>
<rect x="539.90" y="335.6" width="21" height="11.6" fill="rgb(234,147,148)" stroke="rgb(214,39,40)" stroke-width="1.6"/>
<text x="568.20" y="346" font-family='"Liberation Serif", serif' fill="#111" font-size="14.4" stroke="#111" stroke-width="0.25">1</text>
<text x="579.60" y="346" font-family='"Liberation Serif", serif' fill="#111" font-size="13.5" stroke="#111" stroke-width="0.3" textLength="9.20" lengthAdjust="spacingAndGlyphs">−</text>
<text x="592.70" y="346" font-family='"Liberation Serif", serif' fill="#111" font-size="14.4" stroke="#111" stroke-width="0.25" textLength="37.60" lengthAdjust="spacingAndGlyphs">cosine</text>
<text x="631.10" y="348.6" font-family='"Liberation Serif", serif' fill="#111" font-size="9.6" textLength="19.80" lengthAdjust="spacingAndGlyphs">0.75</text>
</svg></body></html>
